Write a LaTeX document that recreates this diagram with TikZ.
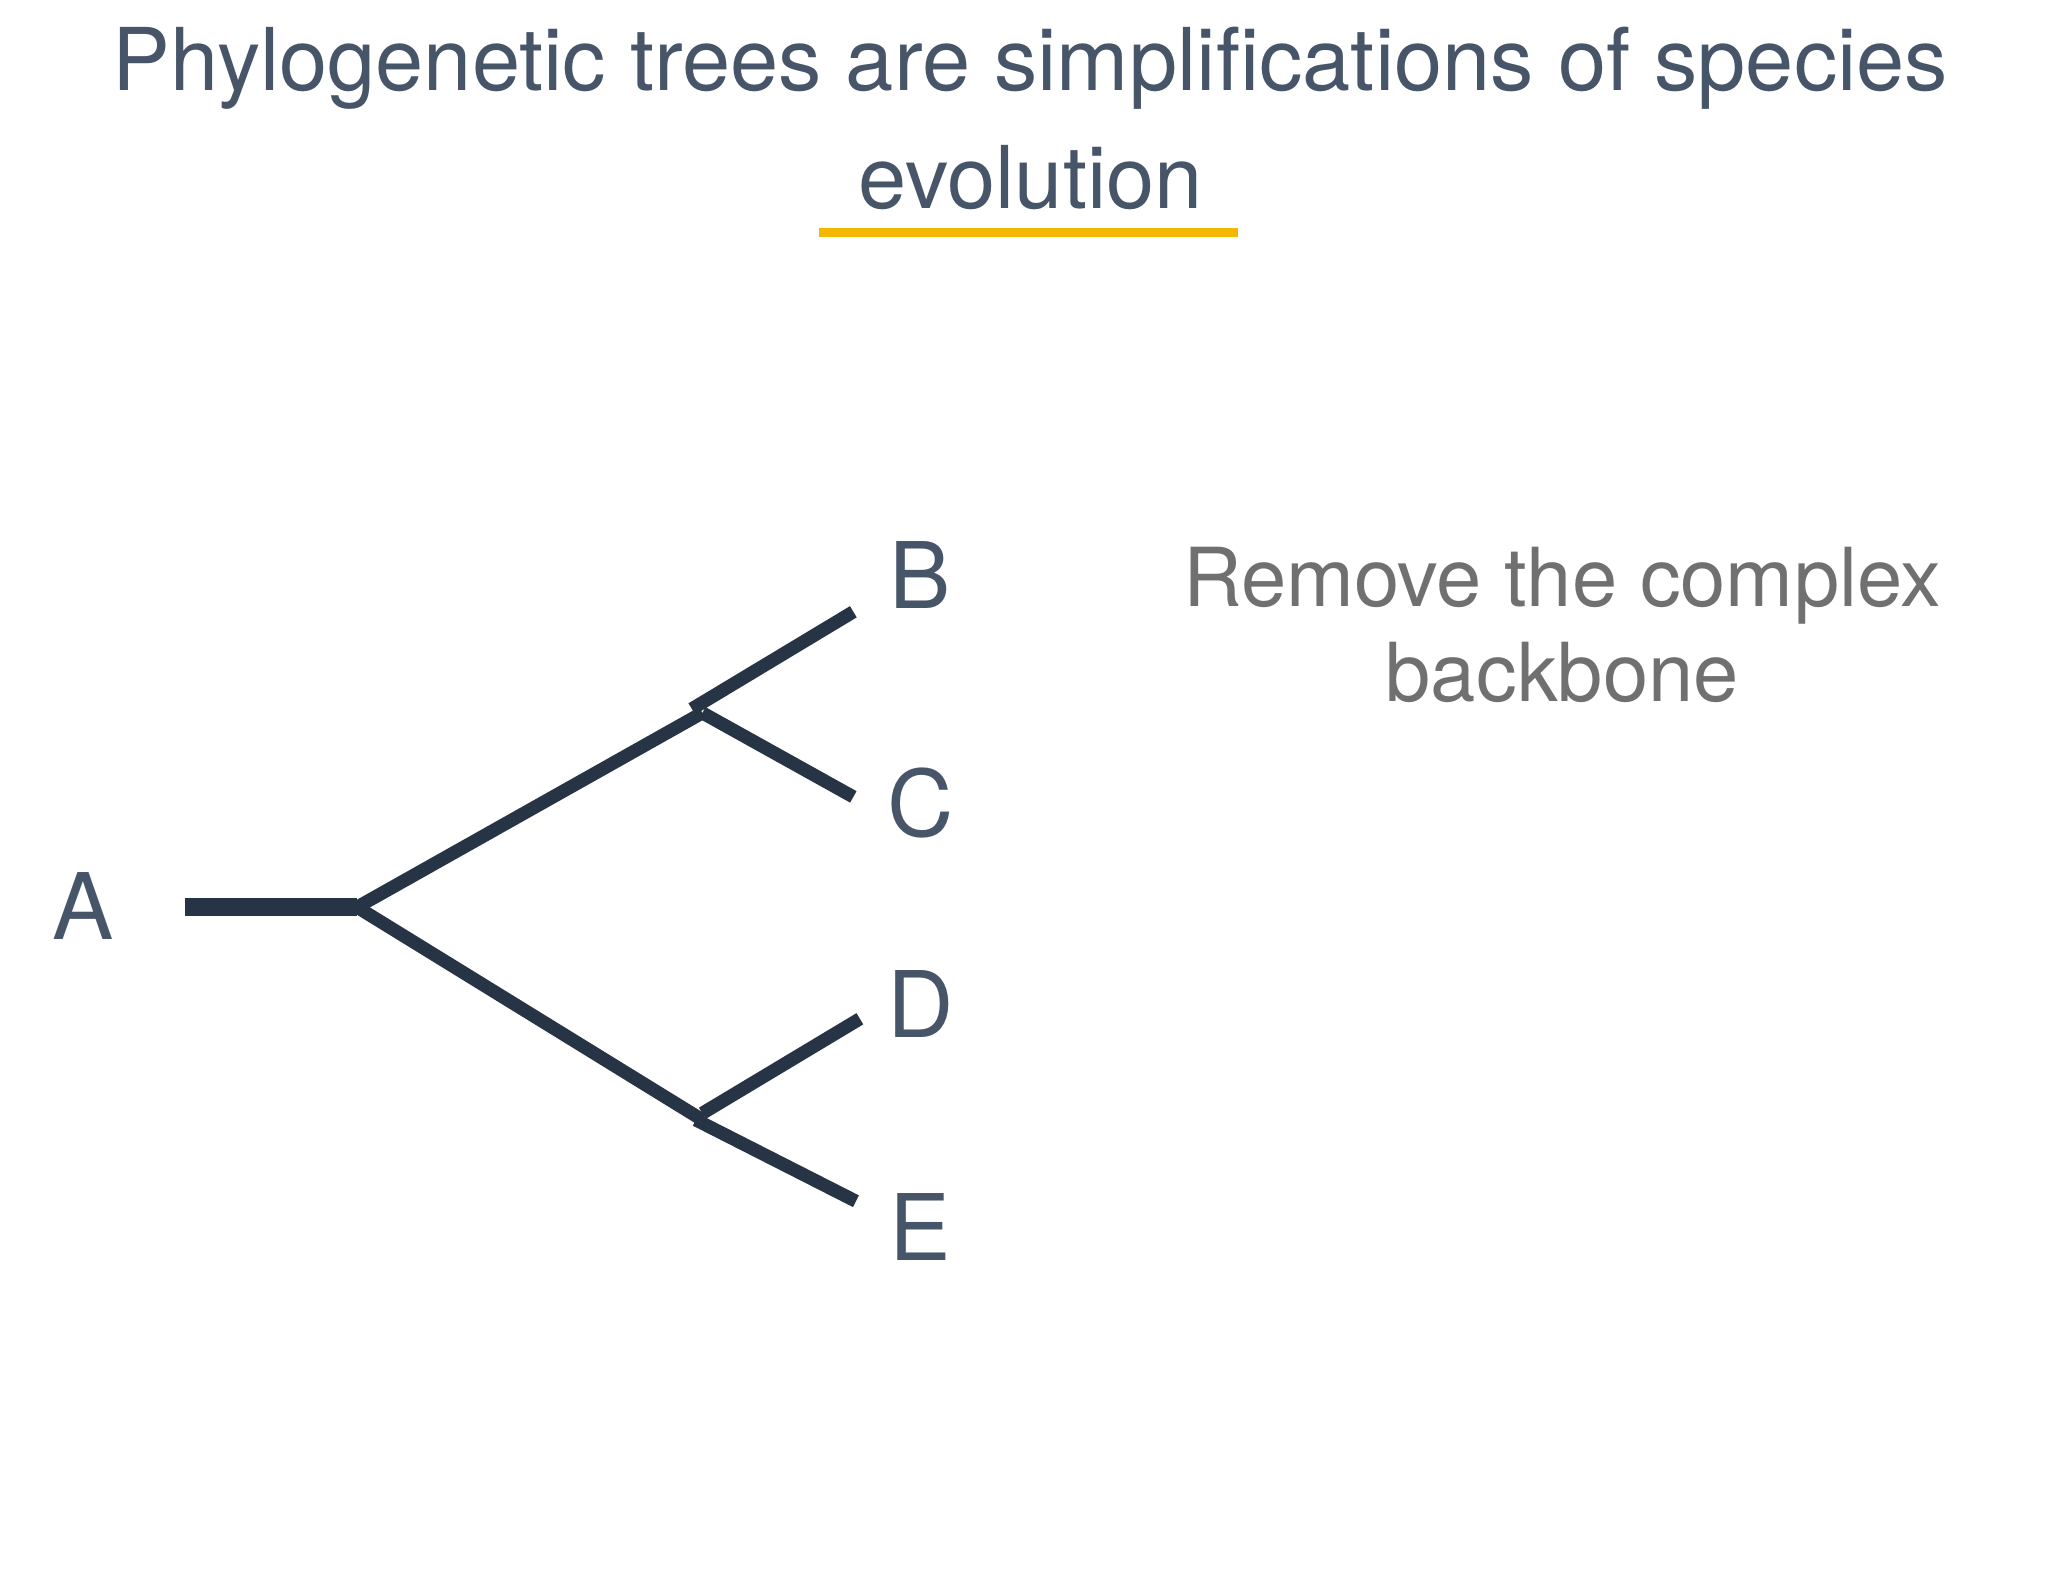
\documentclass[tikz,border=0pt]{standalone}
\usepackage{fontspec}
\setmainfont{TeX Gyre Heros}
\definecolor{titlec}{HTML}{475569}
\definecolor{treec}{HTML}{273445}
\definecolor{yel}{HTML}{F5B800}
\definecolor{grayc}{HTML}{707070}
\begin{document}
\begin{tikzpicture}[x=0.5pt,y=-0.5pt,
  lab/.style={text=titlec,font=\fontsize{35}{40}\selectfont,inner sep=0},
  br/.style={draw=treec,line width=5pt}]
\useasboundingbox (0,0) rectangle (1560,1205);
\node[text=titlec,font=\fontsize{33}{40}\selectfont,inner sep=0] (t1) at (785,52) {Phylogenetic trees are simplifications of species};
\node[text=titlec,font=\fontsize{33}{40}\selectfont,inner sep=0] (t2) at (785,135) {evolution};
\coordinate (u1) at (624,177); \coordinate (u2) at (943,177);
\draw[yel,line width=3.5pt] (u1) -- (u2);
\node[lab] (A) at (63,690) {A};
\node[lab] (B) at (701,438) {B};
\node[lab] (C) at (701,612) {C};
\node[lab] (D) at (701,765) {D};
\node[lab] (E) at (701,935) {E};
\coordinate (r0) at (141,691); \coordinate (r1) at (272,691);
\coordinate (j1) at (535,543); \coordinate (j2) at (535,853);
\coordinate (j1a) at (527,540); \coordinate (bb) at (650,466);
\coordinate (cc) at (650,607);
\coordinate (j2a) at (535,848); \coordinate (dd) at (655,776);
\coordinate (j2b) at (530,853); \coordinate (ee) at (652,915);
\draw[draw=treec,line width=7pt] (r0) -- (r1);
\draw[br] (r1) -- (j1);
\draw[br] (r1) -- (j2);
\draw[br] (j1a) -- (bb);
\draw[br] (j1) -- (cc);
\draw[br] (j2a) -- (dd);
\draw[br] (j2b) -- (ee);
\node[text=grayc,font=\fontsize{31}{36}\selectfont,align=center,inner sep=0] (rm) at (1190,476) {Remove the complex\\[0pt]backbone};
\end{tikzpicture}
\end{document}
